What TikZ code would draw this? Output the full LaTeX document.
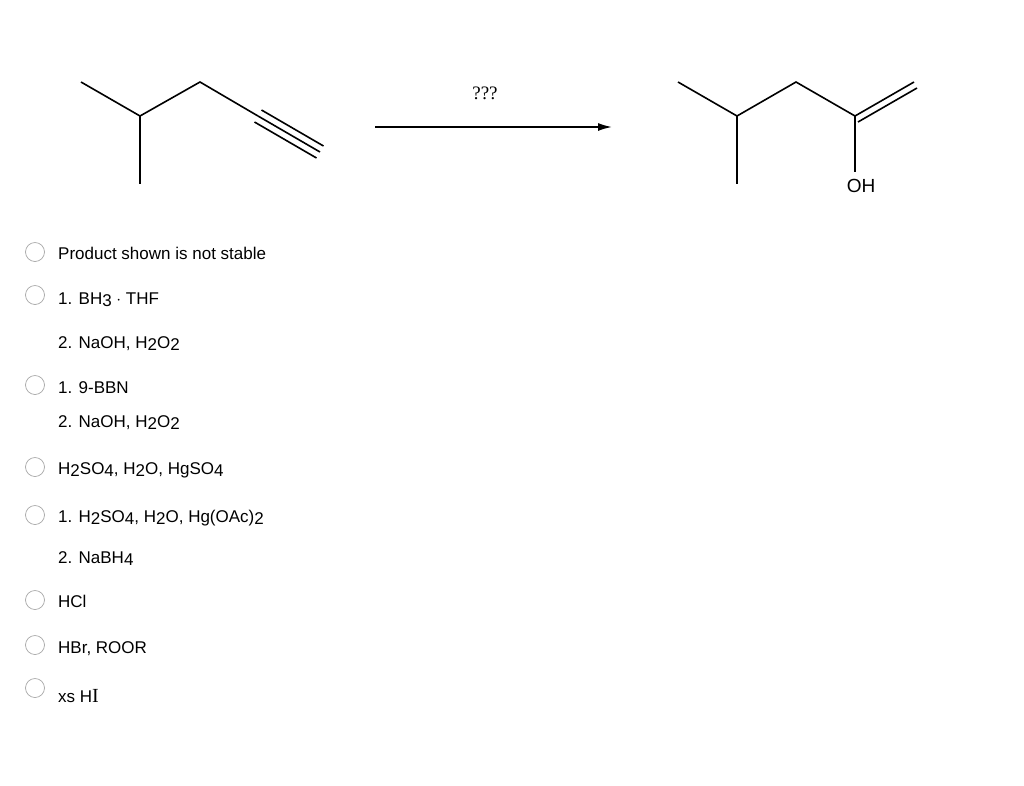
\documentclass[tikz,border=0pt]{standalone}
\usepackage{fontspec}
\usetikzlibrary{calc,arrows.meta}
\setmainfont{Liberation Sans}
\newfontfamily\serifx{Liberation Serif}
\newcommand{\sbx}[1]{\raisebox{-0.3ex}{#1}}
\begin{document}
\begin{tikzpicture}[x=1pt,y=-1pt,
  bond/.style={line width=1.6pt},
  radio/.style={circle,draw=gray!70,line width=0.7pt,minimum size=19pt,inner sep=0pt},
  opt/.style={anchor=base west,font=\fontsize{17}{20}\selectfont,inner sep=0pt}]
\useasboundingbox (0,0) rectangle (1024,785);
% left molecule
\coordinate (a1) at (81,82); \coordinate (a2) at (140,116); \coordinate (a3) at (200,82);
\coordinate (a4) at (258,116); \coordinate (a5) at (320,152); \coordinate (a6) at (140,184);
\draw[bond] (a1)--(a2)--(a3)--(a4); \draw[bond] (a2)--(a6);
\draw[bond] (a4)--(a5);
\draw[bond] ($(a4)+(3.5,-6)$) -- ($(a5)+(3.5,-6)$);
\draw[bond] ($(a4)+(-3.5,6)$) -- ($(a5)+(-3.5,6)$);
% arrow
\coordinate (s) at (375,127); \coordinate (e) at (612,127);
\draw[line width=1.6pt,-{Latex[length=14pt,width=8pt]}] (s) -- (e);
\node[font=\serifx\fontsize{19}{22}\selectfont] (q) at (485,93) {???};
% right molecule
\coordinate (b1) at (678,82); \coordinate (b2) at (737,116); \coordinate (b3) at (796,82);
\coordinate (b4) at (855,116); \coordinate (b5) at (914,82); \coordinate (b6) at (737,184);
\node[font=\fontsize{19}{22}\selectfont,inner sep=1pt] (oh) at (861,186) {OH};
\draw[bond] (b1)--(b2)--(b3)--(b4)--(b5); \draw[bond] (b2)--(b6);
\draw[bond] (b4)--(855,172);
\draw[bond] ($(b4)+(3,6)$)--($(b5)+(3,6)$);
% options
\foreach \y/\n in {252/r1,295/r2,385/r3,467/r4,515/r5,600/r6,645/r7,688/r8}
  \node[radio] (\n) at (35,\y) {};
\node[opt] (t1) at (58,259) {Product shown is not stable};
\node[opt] (t2) at (58,304) {1. BH\sbx{3} $\cdot$ THF};
\node[opt] (t3) at (58,348) {2. NaOH, H\sbx{2}O\sbx{2}};
\node[opt] (t4) at (58,393) {1. 9-BBN};
\node[opt] (t5) at (58,427) {2. NaOH, H\sbx{2}O\sbx{2}};
\node[opt] (t6) at (58,474) {H\sbx{2}SO\sbx{4}, H\sbx{2}O, HgSO\sbx{4}};
\node[opt] (t7) at (58,522) {1. H\sbx{2}SO\sbx{4}, H\sbx{2}O, Hg(OAc)\sbx{2}};
\node[opt] (t8) at (58,563) {2. NaBH\sbx{4}};
\node[opt] (t9) at (58,607) {HCl};
\node[opt] (t10) at (58,653) {HBr, ROOR};
\node[opt] (t11) at (58,702) {xs H{\serifx\fontsize{20}{22}\selectfont I}};
\end{tikzpicture}
\end{document}
